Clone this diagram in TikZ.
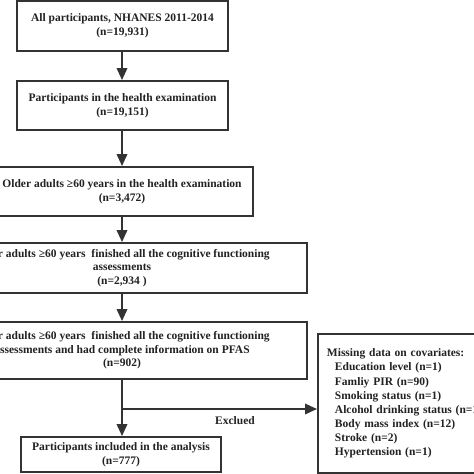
\documentclass[tikz,border=0pt]{standalone}
\usepackage{fontspec}
\setmainfont{Liberation Serif}
\usetikzlibrary{arrows.meta}
\definecolor{linecol}{HTML}{333333}
\definecolor{txtcol}{HTML}{222222}
\begin{document}
\begin{tikzpicture}[x=1pt,y=-1pt,
  box/.style={draw=linecol,line width=1.9pt,fill=white,inner sep=0pt,align=center,
    font=\fontsize{11.5}{13.6}\selectfont\bfseries,text=txtcol},
  conn/.style={draw=linecol,line width=1.9pt},
  arr/.style={conn,-{Triangle[length=12pt,width=10.5pt]}},
  lbl/.style={font=\fontsize{11.5}{13.6}\selectfont\bfseries,text=txtcol}]
\useasboundingbox (0,0) rectangle (474,474);
\clip (0,0) rectangle (474,474);
\fill[white] (0,0) rectangle (474,474);
\node[box,minimum width=211pt,minimum height=50pt] (b1) at (122.5,26)
  {All participants, NHANES 2011-2014\\(n=19,931)};
\node[box,minimum width=211pt,minimum height=49pt] (b2) at (122.5,105.5)
  {Participants in the health examination\\(n=19,151)};
\node[box,minimum width=262pt,minimum height=49pt] (b3) at (122,191.5)
  {Older adults ≥60 years in the health examination\\(n=3,472)};
\node[box,minimum width=370pt,minimum height=50pt] (b4) at (122,268)
  {Older adults ≥60 years\ \ finished all the cognitive functioning\\assessments\\(n=2,934 )};
\node[box,minimum width=370pt,minimum height=57pt] (b5) at (122,350.5)
  {Older adults ≥60 years\ \ finished all the cognitive functioning\\assessments and had complete information on PFAS\\(n=902)};
\node[box,minimum width=200pt,minimum height=35pt] (b6) at (121,454.5)
  {Participants included in the analysis\\(n=777)};
\node[box,minimum width=213pt,minimum height=139pt,anchor=north west,align=left,
  text width=200pt,font=\fontsize{11.5}{14.1}\selectfont\bfseries] (b7) at (317,333)
  {\hspace*{2.5pt}Missing data on covariates:\\
   \hspace*{10.5pt}Education level (n=1)\\
   \hspace*{10.5pt}Famliy PIR (n=90)\\
   \hspace*{10.5pt}Smoking status (n=1)\\
   \hspace*{10.5pt}Alcohol drinking status (n=1)\\
   \hspace*{10.5pt}Body mass index (n=12)\\
   \hspace*{10.5pt}Stroke (n=2)\\
   \hspace*{10.5pt}Hypertension (n=1)};
\draw[arr] (b1.south -| 122,0) -- (b2.north -| 122,0);
\draw[arr] (b2.south -| 122,0) -- (b3.north -| 122,0);
\draw[arr] (b3.south -| 122,0) -- (b4.north -| 122,0);
\draw[arr] (b4.south -| 122,0) -- (b5.north -| 122,0);
\draw[arr] (b5.south -| 122,0) -- (b6.north -| 122,0);
\coordinate (br) at (122,409);
\draw[arr] (br) -- (br -| b7.west);
\node[lbl] (ex) at (235,421) {Exclued};
\end{tikzpicture}
\end{document}
